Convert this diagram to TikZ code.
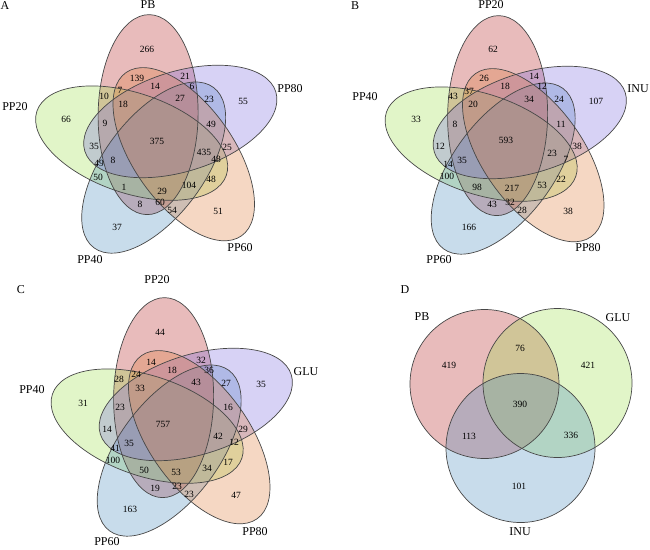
\documentclass[tikz,border=0pt]{standalone}
\usepackage{fontspec}
\setmainfont{Liberation Serif}
\definecolor{cR}{RGB}{178,30,30}
\definecolor{cP}{RGB}{122,105,222}
\definecolor{cO}{RGB}{222,122,55}
\definecolor{cB}{RGB}{72,138,188}
\definecolor{cG}{RGB}{155,222,72}
\tikzset{
  num/.style={font=\fontsize{9.5}{10}\selectfont, inner sep=0pt},
  cat/.style={font=\fontsize{12}{13}\selectfont, inner sep=0pt},
  vfill/.style={fill opacity=0.3},
  vline/.style={draw=black!72, line width=0.7pt},
}
\def\vd{28}
\def\valpha{-24}
\def\vbeta{0.7}
\def\vA{100}
\def\vB{50}
\newcommand{\venfive}[2]{%
  \foreach \k/\col in {0/cR,4/cG,3/cB,1/cP,2/cO}{%
    \pgfmathsetmacro{\ex}{#1+\vd*sin(\valpha+72*\k)}%
    \pgfmathsetmacro{\ey}{#2-\vd*cos(\valpha+72*\k)}%
    \pgfmathsetmacro{\th}{-(\vbeta+72*\k)}%
    \fill[\col,vfill,rotate around={\th:(\ex,\ey)}] (\ex,\ey) ellipse [x radius=\vB pt,y radius=\vA pt];
  }%
  \foreach \k in {0,...,4}{%
    \pgfmathsetmacro{\ex}{#1+\vd*sin(\valpha+72*\k)}%
    \pgfmathsetmacro{\ey}{#2-\vd*cos(\valpha+72*\k)}%
    \pgfmathsetmacro{\th}{-(\vbeta+72*\k)}%
    \draw[vline,rotate around={\th:(\ex,\ey)}] (\ex,\ey) ellipse [x radius=\vB pt,y radius=\vA pt];
  }%
}
\begin{document}
\begin{tikzpicture}[x=1pt,y=-1pt]
\useasboundingbox (0,0) rectangle (650,549);
% ---------- Panel A
\venfive{159.5}{140.2}
\foreach \x/\y/\t [count=\i] in {147/49/266,137/78/139,185/76/21,155/86/14,192/86/6,120/90/7,104/96/10,180/98/27,209/99/23,243/101/55,123/104/18,66/119/66,105/123/9,211/124/49,157/141/375,94/146/35,227/147/25,204/152/435,216/159/48,113/160/8,99/163/49,98/177/50,211/179/48,189/185/104,124/187/1,162/191/29,160/202/60,140/204/8,172/210/54,218/211/51,117/227/37}
  \node[num] (a\i) at (\x,\y) {\t};
\node[cat] (aL) at (5,6) {A};
\node[cat] (aPB) at (148,5) {PB};
\node[cat] (aPP80) at (290,89) {PP80};
\node[cat] (aPP20) at (15,107) {PP20};
\node[cat] (aPP40) at (90,260) {PP40};
\node[cat] (aPP60) at (240,248) {PP60};
% ---------- Panel B
\venfive{509}{141.2}
\foreach \x/\y/\t [count=\i] in {493/49/62,484/78/26,534/76/14,505/86/18,542/86/12,469/91/37,453/96/43,529/99/34,559/99/24,596/101/107,473/104/20,416/119/33,455/124/8,561/124/11,506/140/593,440/146/12,577/146/38,552/153/23,566/159/7,462/160/35,448/164/14,447/176/100,561/179/22,542/185/53,477/187/98,512/188/217,510/202/32,492/204/43,522/210/28,568/211/38,469/227/166}
  \node[num] (b\i) at (\x,\y) {\t};
\node[cat] (bL) at (355,6) {B};
\node[cat] (bPP20) at (491,5) {PP20};
\node[cat] (bINU) at (638,89) {INU};
\node[cat] (bPP40) at (365,97) {PP40};
\node[cat] (bPP60) at (439,260) {PP60};
\node[cat] (bPP80) at (588,248) {PP80};
% ---------- Panel C
\venfive{175}{423.2}
\foreach \x/\y/\t [count=\i] in {160/332/44,151/362/14,201/360/32,172/370/18,209/370/36,136/374/24,119/379/28,196/382/43,226/383/27,261/384/35,140/388/33,83/403/31,120/407/23,228/407/16,163/424/757,107/429/14,243/429/29,218/436/42,234/442/12,129/443/35,115/448/41,113/460/100,228/462/17,207/468/34,144/470/50,176/472/53,177/486/23,155/488/19,189/494/23,236/495/47,130/509/163}
  \node[num] (c\i) at (\x,\y) {\t};
\node[cat] (cL) at (21,290) {C};
\node[cat] (cPP20) at (157,280) {PP20};
\node[cat] (cGLU) at (306,372) {GLU};
\node[cat] (cPP40) at (32,390) {PP40};
\node[cat] (cPP60) at (107,542) {PP60};
\node[cat] (cPP80) at (255,532) {PP80};
% ---------- Panel D
\fill[cR,vfill] (484.5,384) circle [radius=74.5pt];
\fill[cG,vfill] (557.5,383) circle [radius=74.5pt];
\fill[cB,vfill] (520.5,448) circle [radius=74.5pt];
\draw[vline] (484.5,384) circle [radius=74.5pt];
\draw[vline] (557.5,383) circle [radius=74.5pt];
\draw[vline] (520.5,448) circle [radius=74.5pt];
\foreach \x/\y/\t [count=\i] in {449/365/419,520/348/76,588/365/421,520/404/390,469/436/113,571/435/336,519/486/101}
  \node[num] (d\i) at (\x,\y) {\t};
\node[cat] (dL) at (405,290) {D};
\node[cat] (dPB) at (422,317) {PB};
\node[cat] (dGLU) at (618,318) {GLU};
\node[cat] (dINU) at (520,532) {INU};
\end{tikzpicture}
\end{document}
